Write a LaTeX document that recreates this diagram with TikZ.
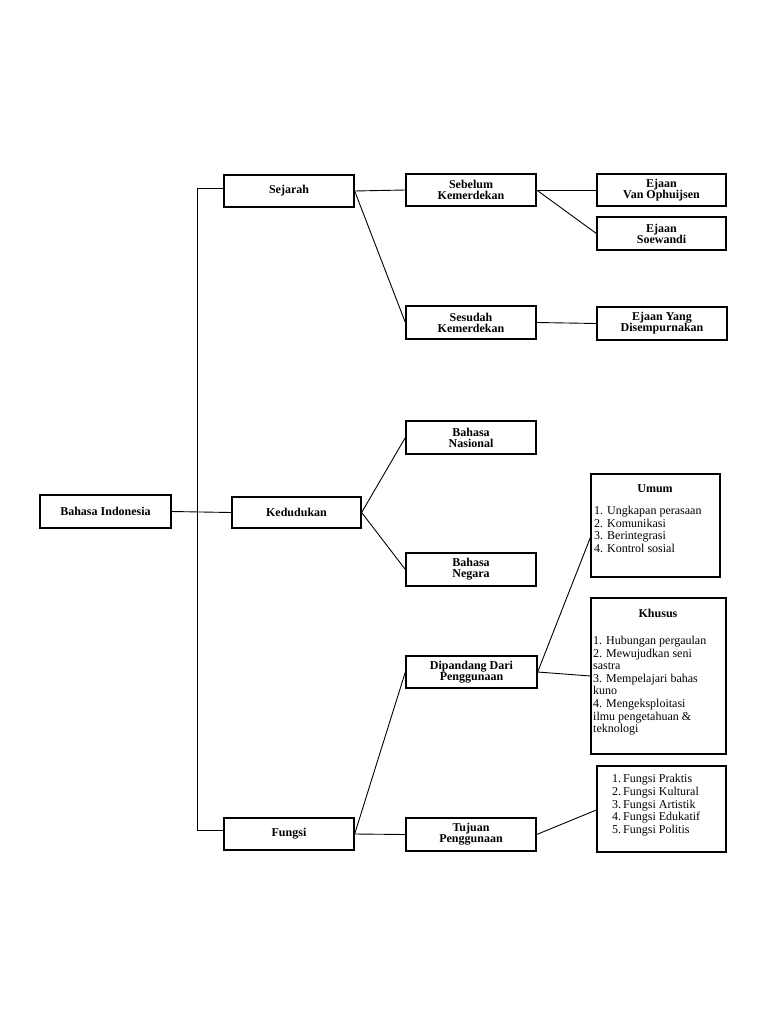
\documentclass[tikz,border=0pt]{standalone}
\usepackage{fontspec}
\setmainfont{Liberation Serif}
\begin{document}
\begin{tikzpicture}[x=1pt,y=-1pt,
  bx/.style={draw,line width=1.3pt,inner sep=0pt,font=\fontsize{12}{11}\selectfont\bfseries,align=center},
  ln/.style={line width=0.9pt}]
\useasboundingbox (0,0) rectangle (768,1024);
\newcommand\bxat[6]{\node[bx,minimum width=#3-#1,minimum height=#4-#2] (#5) at ({(#1+#3)/2},{(#2+#4)/2}) {#6};}
\bxat{40}{495}{171}{528}{bi}{Bahasa Indonesia}
\bxat{224}{175}{354}{207}{sej}{Sejarah}
\bxat{232}{497}{361}{528}{ked}{Kedudukan}
\bxat{224}{818}{354}{850}{fun}{Fungsi}
\bxat{406}{174}{536}{206}{seb}{Sebelum\\Kemerdekan}
\bxat{406}{306}{536}{339}{ses}{Sesudah\\Kemerdekan}
\bxat{406}{421}{536}{454}{nas}{Bahasa\\Nasional}
\bxat{406}{553}{536}{586}{neg}{Bahasa\\Negara}
\bxat{406}{656}{537}{688}{dip}{Dipandang Dari\\Penggunaan}
\bxat{406}{818}{536}{851}{tuj}{Tujuan\\Penggunaan}
\bxat{597}{174}{726}{206}{van}{Ejaan\\Van Ophuijsen}
\bxat{597}{217}{726}{250}{soe}{Ejaan\\Soewandi}
\bxat{597}{307}{727}{340}{eyd}{Ejaan Yang\\Disempurnakan}
\bxat{591}{474}{720}{577}{umu}{}
\bxat{591}{598}{726}{754}{khu}{}
\bxat{597}{766}{726}{852}{lst}{}
\node[font=\fontsize{12}{12}\selectfont\bfseries] (umt) at (655,489) {Umum};
\node[anchor=north west,inner sep=0pt,align=left,font=\fontsize{12}{12.5}\selectfont] (umx) at (594,506)
 {1. Ungkapan perasaan\\2. Komunikasi\\3. Berintegrasi\\4. Kontrol sosial};
\node[font=\fontsize{12}{12}\selectfont\bfseries] (kht) at (658,613) {Khusus};
\node[anchor=north west,inner sep=0pt,align=left,font=\fontsize{12}{12.6}\selectfont] (khx) at (593,636)
 {1. Hubungan pergaulan\\2. Mewujudkan seni\\sastra\\3. Mempelajari bahas\\kuno\\4. Mengeksploitasi\\ilmu pengetahuan \&\\teknologi};
\node[anchor=north west,inner sep=0pt,align=left,font=\fontsize{12}{12.8}\selectfont] (lsx) at (612,774)
 {1.\,Fungsi Praktis\\2.\,Fungsi Kultural\\3.\,Fungsi Artistik\\4.\,Fungsi Edukatif\\5.\,Fungsi Politis};
\coordinate (t1) at (197,188);
\coordinate (t2) at (197,512);
\coordinate (t3) at (197,830);
\draw[ln] (t1) -- (t3);
\draw[ln] (bi.east) -- (ked.west);
\draw[ln] (t1) -- (sej.west |- t1);
\draw[ln] (t3) -- (fun.west |- t3);
\draw[ln] (sej.east) -- (seb.west);
\draw[ln] (sej.east) -- (ses.west);
\draw[ln] (ked.east) -- (nas.west);
\draw[ln] (ked.east) -- (neg.west);
\draw[ln] (fun.east) -- (dip.west);
\draw[ln] (fun.east) -- (tuj.west);
\draw[ln] (seb.east) -- (van.west);
\draw[ln] (seb.east) -- (soe.west);
\draw[ln] (ses.east) -- (eyd.west);
\draw[ln] (dip.east) -- ([yshift=-12pt]umu.west);
\draw[ln] (dip.east) -- (khu.west);
\draw[ln] (tuj.east) -- ([yshift=-1pt]lst.west);
\end{tikzpicture}
\end{document}
